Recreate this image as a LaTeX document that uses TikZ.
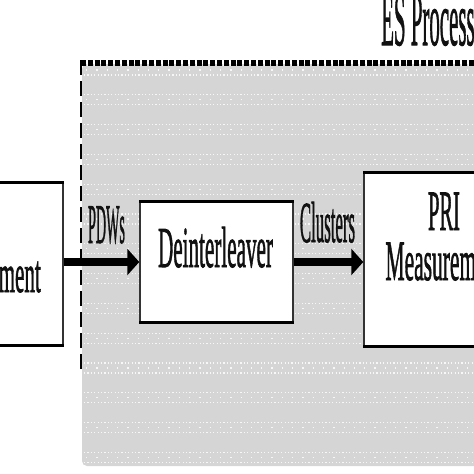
\documentclass[tikz,border=0pt]{standalone}
\usepackage{fontspec}
\usepackage{graphicx}
\setmainfont{Liberation Serif}[FakeBold=1.6]
\usetikzlibrary{arrows.meta}
\definecolor{bggray}{HTML}{D5D5D5}
\definecolor{dotwhite}{HTML}{F7F7F7}
\definecolor{ink}{HTML}{111111}
\definecolor{sideedge}{HTML}{333333}
\newcommand{\sqtext}[3]{\fontsize{#1}{#1}\selectfont\scalebox{#2}[1]{#3}}
\tikzset{
  blockbox/.style={draw=sideedge, fill=white, line width=1.5pt, inner sep=0pt},
  boxedge/.style={draw=black, line width=3.2pt},
  lbl/.style={inner sep=0pt, text=ink},
  flow/.style={line width=8pt, draw=black, -{Triangle[length=12pt,width=26pt]}},
  dotrow/.style={dotwhite, line width=1.1pt, dash pattern=on 1.1pt off 2.3pt},
  dotrowsparse/.style={dotwhite, line width=1.1pt, dash pattern=on 1.3pt off 9pt},
}
\begin{document}
\begin{tikzpicture}[x=1pt,y=-1pt]
\useasboundingbox (0,0) rectangle (474,474);
\clip (0,0) rectangle (474,474);

% gray processor region
\fill[bggray, rounded corners=5pt] (82,64) rectangle (500,466);
\begin{scope}
  \clip[rounded corners=5pt] (82,64) rectangle (500,466);
  \foreach \k in {0,...,13} {
    \draw[dotrow] ({84},{70+29.8*\k-5}) -- ({474},{70+29.8*\k-5});
    \draw[dotrowsparse] ({86},{70+29.8*\k}) -- ({474},{70+29.8*\k});
    \draw[dotrow] ({84},{70+29.8*\k+5}) -- ({474},{70+29.8*\k+5});
  }
\end{scope}

% dashed border
\coordinate (tl) at (81,63);
\coordinate (tr) at (480,63);
\coordinate (lb) at (81,370);
\draw[black, line width=5.5pt, dash pattern=on 5pt off 1.8pt] (tl) -- (tr);
\draw[black, line width=2.2pt, dash pattern=on 15pt off 6pt] ([yshift=3pt]tl) -- (lb);

% title
\node[lbl, anchor=base west] (title) at (381,45) {\sqtext{76}{0.275}{ES Processor}};

% blocks
\node[blockbox, minimum width=163pt, minimum height=162pt] (meas) at (-18.5,264) {};
\node[blockbox, minimum width=153pt, minimum height=120pt] (dein) at (216.5,262) {};
\node[blockbox, minimum width=160pt, minimum height=173pt] (pri) at (444,259.5) {};
\foreach \b in {meas,dein,pri} {
  \draw[boxedge] (\b.north west) -- (\b.north east);
  \draw[boxedge] (\b.south west) -- (\b.south east);
}

% block texts
\node[lbl, anchor=base east] (meastext) at (41,292) {\sqtext{54}{0.39}{Measurement}};
\node[lbl, anchor=base] (deintext) at (215.5,267) {\sqtext{58}{0.364}{Deinterleaver}};
\node[lbl, align=center, anchor=base, font={\fontsize{57}{50}\selectfont}] (pritext) at (444,280)
  {\scalebox{0.36}[1]{PRI}\\\scalebox{0.377}[1]{Measurement}};

% connectors
\draw[flow] (meas.east |- dein.west) -- (dein.west);
\draw[flow] (dein.east) -- (dein.east -| pri.west);

% connector labels
\node[lbl, anchor=base] (pdws) at (106.5,243) {\sqtext{56}{0.252}{PDWs}};
\node[lbl, anchor=base] (clusters) at (327.5,242) {\sqtext{58}{0.29}{Clusters}};
\end{tikzpicture}
\end{document}
